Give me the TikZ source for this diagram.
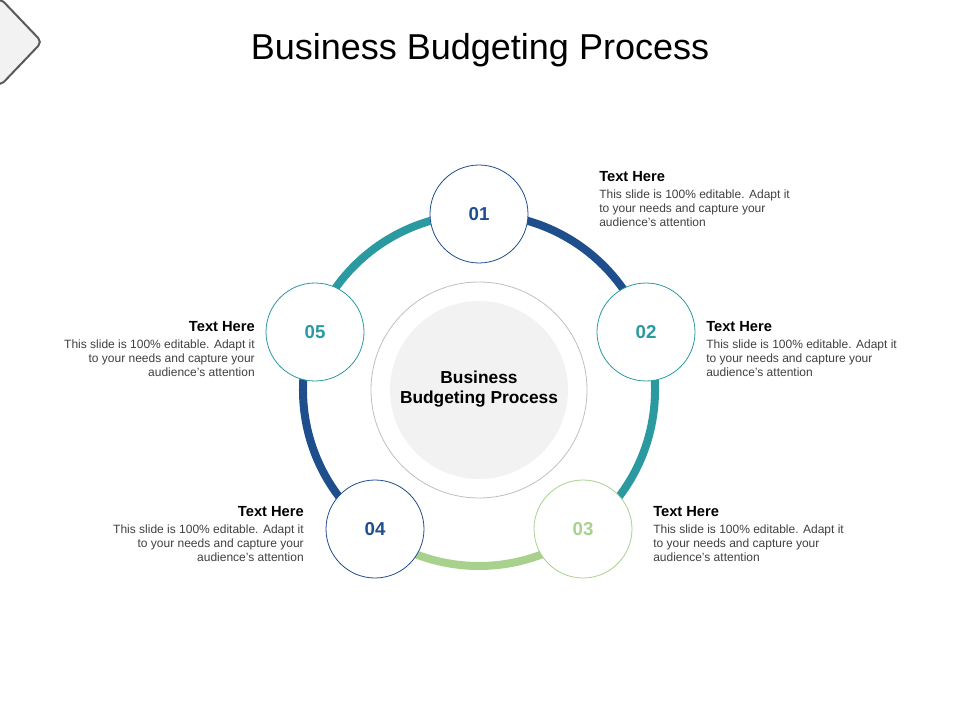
\documentclass[tikz,border=0pt]{standalone}
\usepackage{fontspec}
\setmainfont{Liberation Sans}
\usetikzlibrary{positioning}
\definecolor{stepnavy}{HTML}{1F4E8C}
\definecolor{stepteal}{HTML}{2A9AA0}
\definecolor{stepleaf}{HTML}{A9D18E}
\definecolor{mist}{HTML}{F2F2F2}
\newcommand\slidetext{This slide is 100\% editable. Adapt it\\to your needs and capture your\\audience's attention}

\begin{document}
\begin{tikzpicture}[
    x=0.75pt, y=-0.75pt,
    step circle/.style = {
        circle, draw=#1, text=#1, fill=white, line width=0.6pt,
        minimum size=98*0.75pt, inner sep=0pt,
        font=\fontsize{14}{16}\selectfont\bfseries,
    },
    ring arc/.style = {line width=6pt},
    heading/.style = {font=\fontsize{11}{13}\selectfont\bfseries, inner sep=0pt},
    body/.style = {font=\fontsize{9}{10.5}\selectfont, text=black!75, inner sep=0pt},
]
\useasboundingbox (0,0) rectangle (960,720);
% corner tab
\draw [black!65, fill=mist, line width=1.5pt, rounded corners=4pt]
    (-44,42) -- (0,-2) -- (42,42) -- (0,86) -- cycle;
% title
\node (title) at (480,50) {\fontsize{27}{31}\selectfont Business Budgeting Process};
% centre
\draw [black!25, line width=0.6pt] (479,390) circle [radius=108];
\fill [mist] (479,390) circle [radius=89];
\node (hub) [align=center, font=\fontsize{13}{15}\selectfont\bfseries] at (479,389)
    {Business\\Budgeting Process};
% ring segments (y is flipped, so angles run clockwise)
\draw [ring arc, stepnavy] (479,390) ++(-90:176) arc [start angle=-90, end angle=-18, radius=176];
\draw [ring arc, stepteal] (479,390) ++(-18:176) arc [start angle=-18, end angle=54, radius=176];
\draw [ring arc, stepleaf] (479,390) ++(54:176) arc [start angle=54, end angle=126, radius=176];
\draw [ring arc, stepnavy] (479,390) ++(126:176) arc [start angle=126, end angle=198, radius=176];
\draw [ring arc, stepteal] (479,390) ++(198:176) arc [start angle=198, end angle=270, radius=176];
% steps
\node (s1) [step circle=stepnavy] at (479,214) {01};
\node (s2) [step circle=stepteal] at (646,332) {02};
\node (s3) [step circle=stepleaf] at (583,529) {03};
\node (s4) [step circle=stepnavy] at (375,529) {04};
\node (s5) [step circle=stepteal] at (315,332) {05};
% labels
\node (h1) [heading, anchor=west] at (599,177) {Text Here};
\node (b1) [body, anchor=north west, align=left] at (599,190) {\slidetext};
\node (h2) [heading, anchor=west] at (706,327) {Text Here};
\node (b2) [body, anchor=north west, align=left] at (706,340) {\slidetext};
\node (h3) [heading, anchor=west] at (653,512) {Text Here};
\node (b3) [body, anchor=north west, align=left] at (653,525) {\slidetext};
\node (h4) [heading, anchor=east] at (304,512) {Text Here};
\node (b4) [body, anchor=north east, align=right] at (304,525) {\slidetext};
\node (h5) [heading, anchor=east] at (255,327) {Text Here};
\node (b5) [body, anchor=north east, align=right] at (255,340) {\slidetext};
\end{tikzpicture}
\end{document}
